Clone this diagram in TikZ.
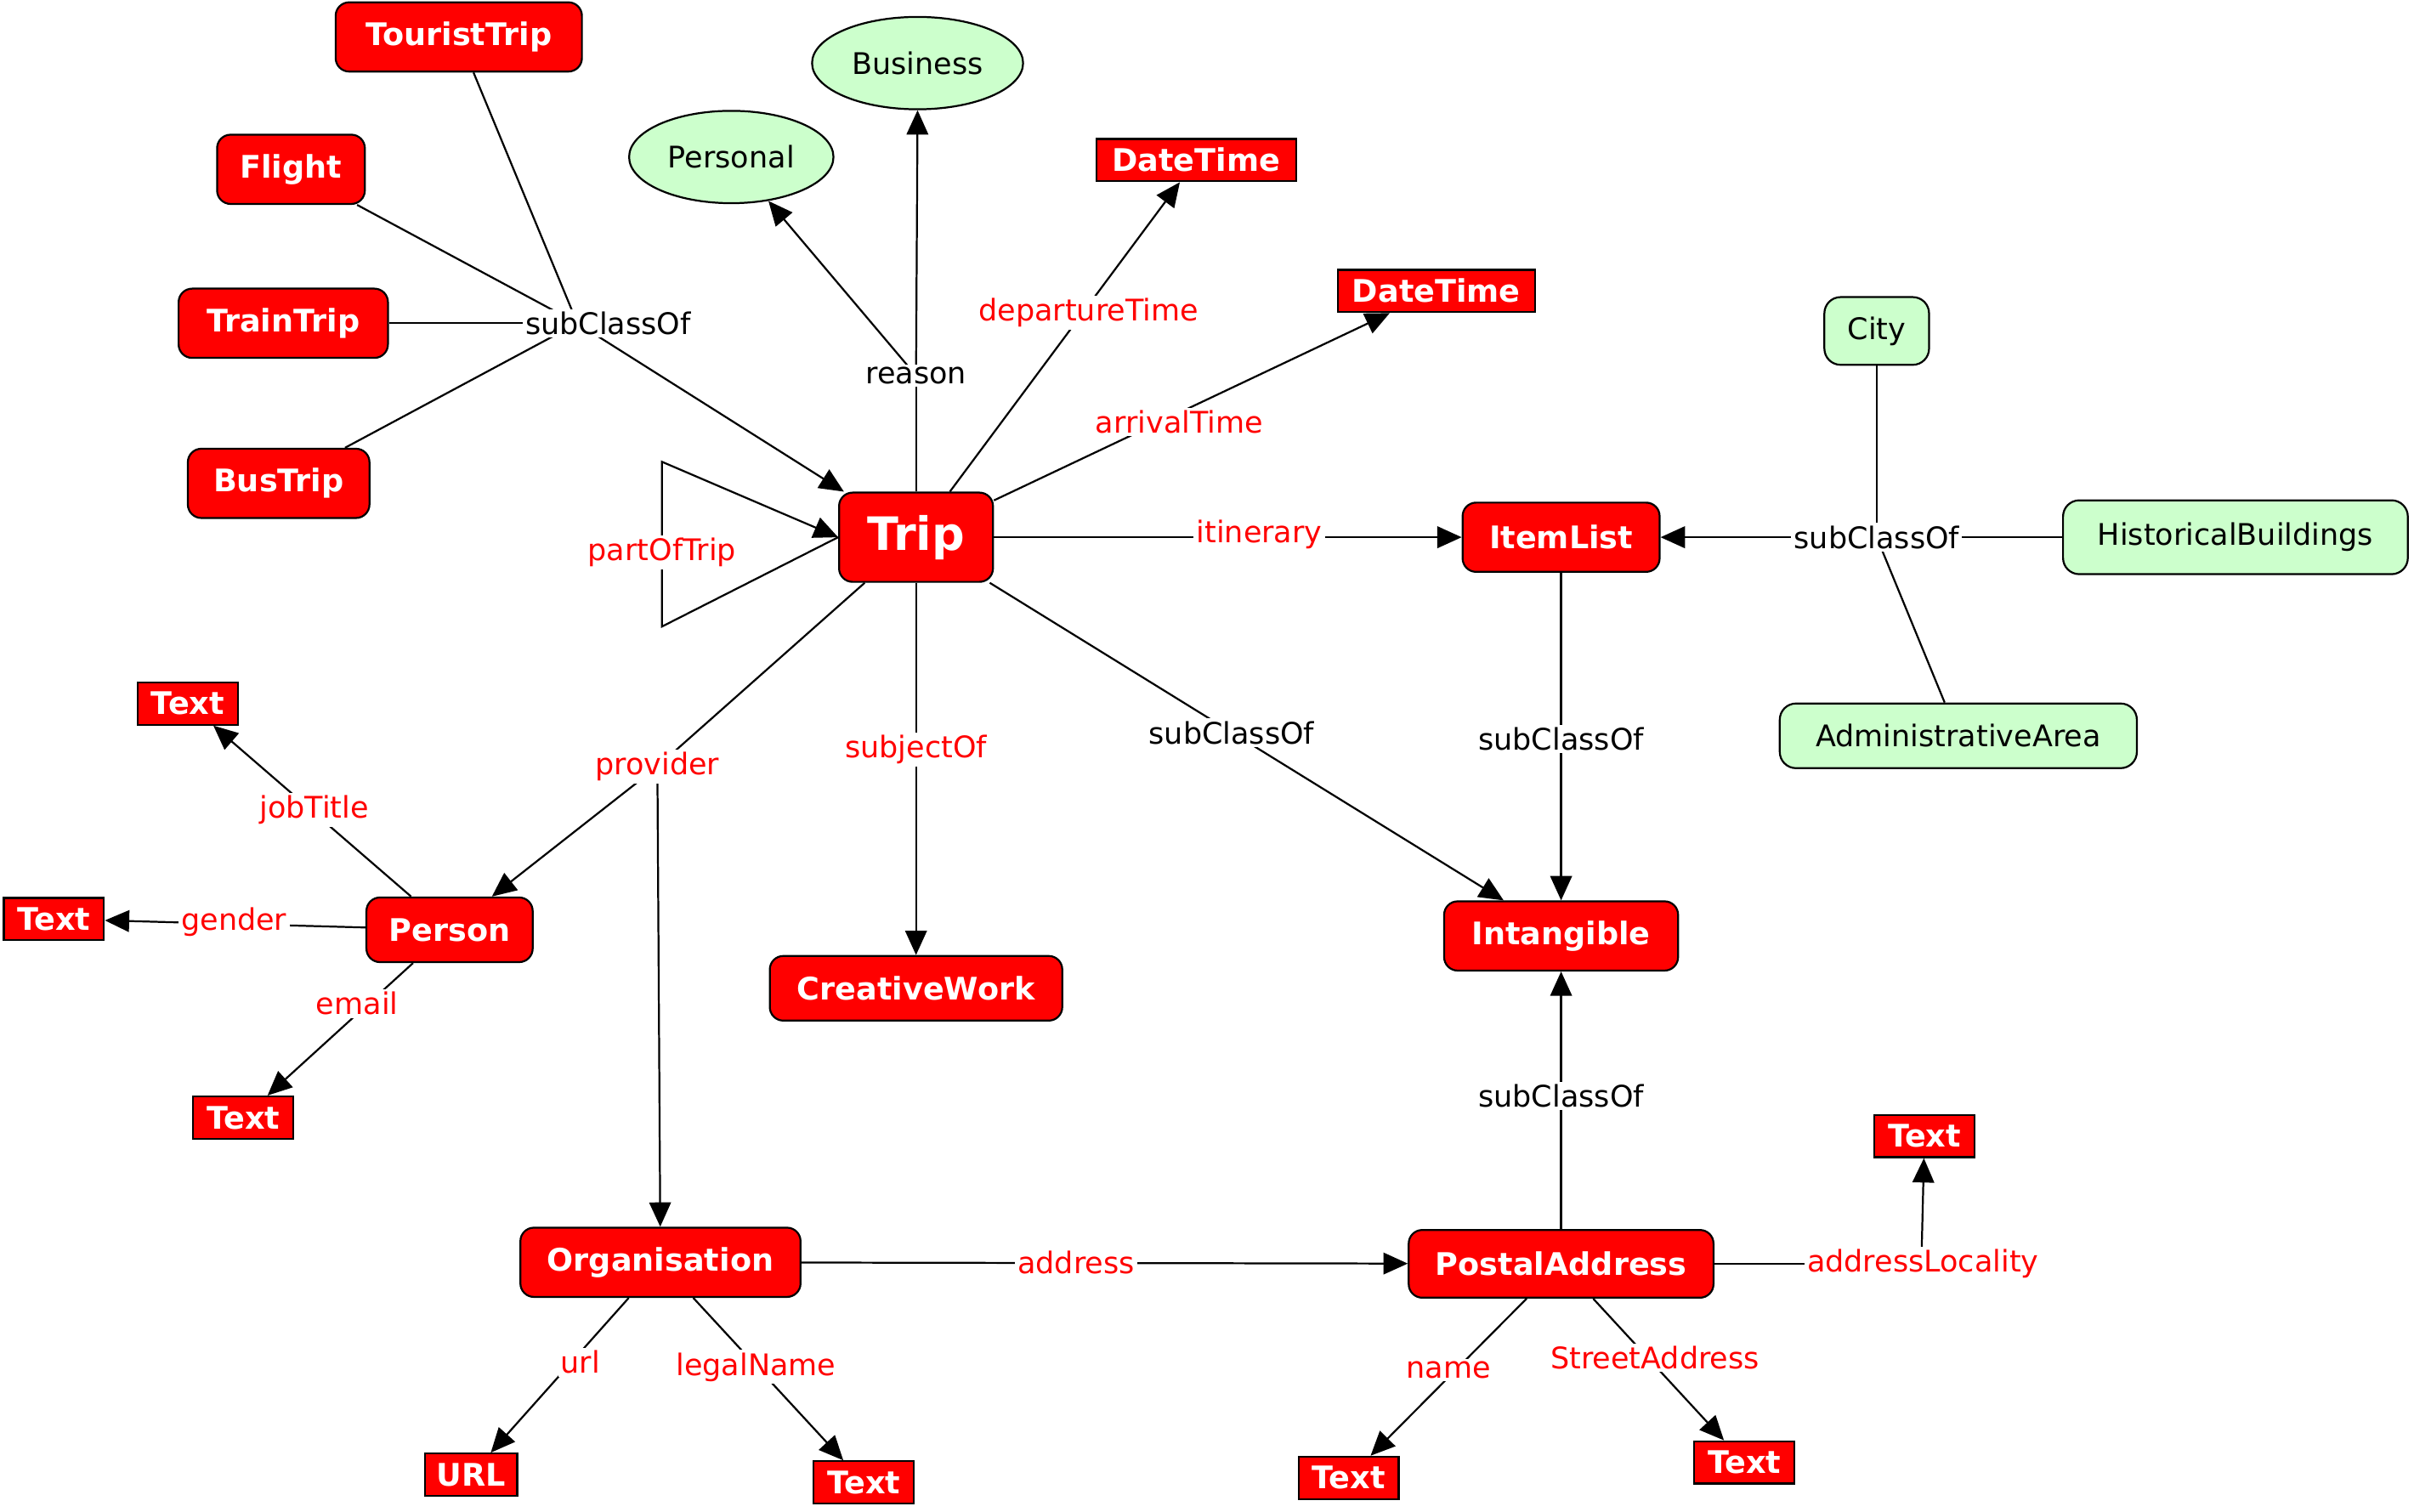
\documentclass[tikz,border=0pt]{standalone}
\usepackage{fontspec}
\setmainfont{DejaVu Sans}
\usetikzlibrary{arrows.meta}
\definecolor{lg}{HTML}{CCFFCC}
\begin{document}
\begin{tikzpicture}[x=0.02cm,y=-0.02cm,
 font=\fontsize{11}{13}\selectfont,
 rb/.style={draw=black,fill=red,text=white,font=\fontsize{11.5}{13}\selectfont\bfseries,rounded corners=5pt,minimum height=0.9cm,inner xsep=8pt},
 tb/.style={draw=black,fill=red,text=white,font=\fontsize{11.5}{13}\selectfont\bfseries,inner sep=2pt,minimum height=0.55cm,minimum width=1.3cm},
 gb/.style={draw=black,fill=lg,rounded corners=6pt,minimum height=0.88cm,inner xsep=6pt},
 ge/.style={draw=black,fill=lg,ellipse,minimum height=1.2cm,minimum width=2.45cm},
 rl/.style={fill=white,text=red,inner sep=1pt},
 bl/.style={fill=white,text=black,inner sep=1pt},
 arr/.style={-{Triangle[length=9pt,width=8pt]}},
 line width=0.7pt]
\useasboundingbox (0,0) rectangle (1568,982);
\usetikzlibrary{shapes.geometric}
% nodes
\node[rb,minimum width=3.2cm] (tourist) at (298,24) {TouristTrip};
\node[draw=black,fill=lg,ellipse,minimum height=1.2cm,minimum width=2.48cm] (business) at (596,41) {Business};
\node[draw=black,fill=lg,ellipse,minimum height=1.2cm,minimum width=2.4cm] (personal) at (475,102) {Personal};
\node[rb,minimum width=1.92cm] (flight) at (189,110) {Flight};
\node[tb,minimum width=2.6cm] (dt1) at (777,104) {DateTime};
\node[tb,minimum width=2.56cm] (dt2) at (933,189) {DateTime};
\node[rb,minimum width=2.72cm] (train) at (184,210) {TrainTrip};
\node[gb,minimum width=1.36cm] (city) at (1219,215) {City};
\node[rb,minimum width=2.36cm] (bus) at (181,314) {BusTrip};
\node[rb,minimum width=2cm,minimum height=1.16cm,font=\fontsize{17}{19}\selectfont\bfseries] (trip) at (595,349) {Trip};
\node[rb,minimum width=2.56cm] (itemlist) at (1014,349) {ItemList};
\node[gb,minimum width=4.48cm,minimum height=0.96cm] (hist) at (1452,349) {HistoricalBuildings};
\node[gb,minimum width=4.64cm,minimum height=0.84cm] (admin) at (1272,478) {AdministrativeArea};
\node[tb] (t1) at (122,457) {Text};
\node[tb] (t2) at (35,597) {Text};
\node[rb,minimum width=2.16cm,minimum height=0.84cm] (person) at (292,604) {Person};
\node[rb,minimum width=3.8cm,minimum height=0.84cm] (creative) at (595,642) {CreativeWork};
\node[rb,minimum width=3.04cm] (intangible) at (1014,608) {Intangible};
\node[tb] (t3) at (158,726) {Text};
\node[tb] (t4) at (1250,738) {Text};
\node[rb,minimum width=3.64cm] (org) at (429,820) {Organisation};
\node[rb,minimum width=3.96cm,minimum height=0.88cm] (postal) at (1014,821) {PostalAddress};
\node[tb,minimum width=1.2cm] (url) at (306,958) {URL};
\node[tb] (t5) at (561,963) {Text};
\node[tb] (t6) at (876,960) {Text};
\node[tb] (t7) at (1133,950) {Text};
% junctions
\coordinate (j1) at (375,210);
\coordinate (jr) at (595,244);
\coordinate (j2) at (1219,349);
\coordinate (jp) at (427,498);
\coordinate (jl) at (1248,821);
\coordinate (pa) at (430,300);
\coordinate (pb) at (430,407);
% edges
\draw (flight) -- (j1); \draw (train) -- (j1); \draw (bus) -- (j1); \draw (tourist) -- (j1);
\draw[arr] (j1) -- (trip);
\draw (trip) -- (jr); \draw[arr] (jr) -- (business.south); \draw[arr] (jr) -- (personal);
\draw[arr] (trip) -- (dt1);
\draw[arr] (trip) -- (dt2);
\draw[arr] (trip) -- (itemlist);
\draw[arr] (trip.west) -- (pb) -- (pa) -- (trip.west);
\draw[arr] (trip) -- (intangible);
\draw[arr] (itemlist) -- (intangible);
\draw (city) -- (j2); \draw (hist) -- (j2); \draw (admin) -- (j2); \draw[arr] (j2) -- (itemlist);
\draw (trip) -- (jp); \draw[arr] (jp) -- (person); \draw[arr] (jp) -- (org);
\draw[arr] (trip) -- (creative);
\draw[arr] (person) -- (t1);
\draw[arr] (person) -- (t2);
\draw[arr] (person) -- (t3);
\draw[arr] (org) -- (url);
\draw[arr] (org) -- (t5);
\draw[arr] (org) -- (postal);
\draw[arr] (postal) -- (intangible);
\draw[arr] (postal) -- (t6);
\draw[arr] (postal) -- (t7);
\draw (postal) -- (jl); \draw[arr] (jl) -- (t4);
% labels
\node[bl] (l1) at (395,210) {subClassOf};
\node[bl] (l2) at (595,244) {reason};
\node[rl] (l3) at (707,203) {departureTime};
\node[rl] (l4) at (766,274) {arrivalTime};
\node[rl] (l5) at (818,347) {itinerary};
\node[rl] (l6) at (430,359) {partOfTrip};
\node[bl] (l7) at (800,476) {subClassOf};
\node[bl] (l8) at (1014,480) {subClassOf};
\node[bl] (l9) at (1219,349) {subClassOf};
\node[rl] (l10) at (427,498) {provider};
\node[rl] (l11) at (595,487) {subjectOf};
\node[rl] (l12) at (204,526) {jobTitle};
\node[rl] (l13) at (152,599) {gender};
\node[rl] (l14) at (232,652) {email};
\node[rl] (l15) at (377,885) {url};
\node[rl] (l16) at (491,888) {legalName};
\node[rl] (l17) at (699,820) {address};
\node[bl] (l18) at (1014,712) {subClassOf};
\node[rl] (l19) at (941,890) {name};
\node[rl] (l20) at (1075,882) {StreetAddress};
\node[rl] (l21) at (1249,821) {addressLocality};
\end{tikzpicture}
\end{document}
